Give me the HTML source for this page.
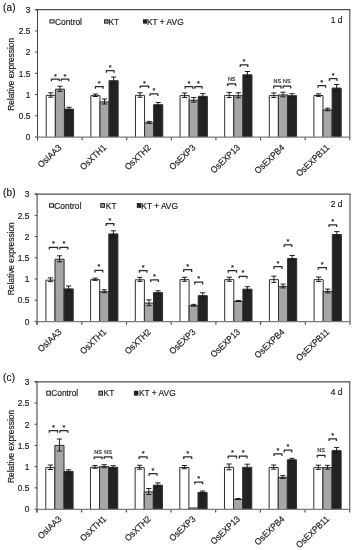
<!DOCTYPE html>
<html><head><meta charset="utf-8"><title>Relative expression</title>
<style>
html,body{margin:0;padding:0;background:#fff;}
svg{display:block;}
text{font-family:"Liberation Sans",sans-serif;fill:#1a1a1a;stroke:#1a1a1a;stroke-width:0.18px;}
.t{font-size:9px;}
.c{font-size:9px;}
.l{font-size:9px;}
.g{font-size:10px;letter-spacing:0.15px;}
.y{font-size:9px;}
.s{font-size:8px;}
.n{font-size:5.9px;fill:#1e2436;stroke:#1e2436;stroke-width:0.2px;}
</style></head><body>
<svg width="352" height="550" viewBox="0 0 352 550">
<rect width="352" height="550" fill="#fff"/>
<path d="M349.75 9.71V137" fill="none" stroke="#6a6a6a" stroke-width="1.3"/>
<path d="M35.1 9.71H350.4" fill="none" stroke="#505050" stroke-width="1.25"/>
<path d="M37.5 140.3V9.71" fill="none" stroke="#444" stroke-width="1.05"/>
<line x1="35.1" y1="137" x2="37.5" y2="137" stroke="#444" stroke-width="1"/>
<text transform="translate(30.4,140.3) scale(0.93,1)" text-anchor="end" class="t">0</text>
<line x1="35.1" y1="115.78" x2="37.5" y2="115.78" stroke="#444" stroke-width="1"/>
<text transform="translate(30.4,119.08) scale(0.93,1)" text-anchor="end" class="t">0.5</text>
<line x1="35.1" y1="94.57" x2="37.5" y2="94.57" stroke="#444" stroke-width="1"/>
<text transform="translate(30.4,97.87) scale(0.93,1)" text-anchor="end" class="t">1</text>
<line x1="35.1" y1="73.36" x2="37.5" y2="73.36" stroke="#444" stroke-width="1"/>
<text transform="translate(30.4,76.66) scale(0.93,1)" text-anchor="end" class="t">1.5</text>
<line x1="35.1" y1="52.14" x2="37.5" y2="52.14" stroke="#444" stroke-width="1"/>
<text transform="translate(30.4,55.44) scale(0.93,1)" text-anchor="end" class="t">2</text>
<line x1="35.1" y1="30.92" x2="37.5" y2="30.92" stroke="#444" stroke-width="1"/>
<text transform="translate(30.4,34.22) scale(0.93,1)" text-anchor="end" class="t">2.5</text>
<line x1="35.1" y1="9.71" x2="37.5" y2="9.71" stroke="#444" stroke-width="1"/>
<text transform="translate(30.4,13.01) scale(0.93,1)" text-anchor="end" class="t">3</text>
<line x1="37.5" y1="137" x2="37.5" y2="140.3" stroke="#444" stroke-width="1.1"/>
<line x1="82.11" y1="137" x2="82.11" y2="140.3" stroke="#444" stroke-width="1.1"/>
<line x1="126.71" y1="137" x2="126.71" y2="140.3" stroke="#444" stroke-width="1.1"/>
<line x1="171.32" y1="137" x2="171.32" y2="140.3" stroke="#444" stroke-width="1.1"/>
<line x1="215.93" y1="137" x2="215.93" y2="140.3" stroke="#444" stroke-width="1.1"/>
<line x1="260.54" y1="137" x2="260.54" y2="140.3" stroke="#444" stroke-width="1.1"/>
<line x1="305.14" y1="137" x2="305.14" y2="140.3" stroke="#444" stroke-width="1.1"/>
<line x1="349.75" y1="137" x2="349.75" y2="140.3" stroke="#444" stroke-width="1.1"/>
<path d="M46.25 137V95.4H55.35V137" fill="#ffffff" stroke="#2e2e2e" stroke-width="1"/>
<path d="M50.8 92.8V97.2M48.2 92.8H53.4M48.2 97.2H53.4" stroke="#161616" stroke-width="0.95" fill="none"/>
<path d="M55.35 137V89.15H64.45V137" fill="#a6a6a6" stroke="#2e2e2e" stroke-width="1"/>
<path d="M59.9 86.25V91.25M57.3 86.25H62.5M57.3 91.25H62.5" stroke="#161616" stroke-width="0.95" fill="none"/>
<path d="M64.45 137V109.15H73.55V137" fill="#222222" stroke="#2e2e2e" stroke-width="1"/>
<path d="M69 107.25V110.25M66.4 107.25H71.6M66.4 110.25H71.6" stroke="#161616" stroke-width="0.95" fill="none"/>
<text transform="translate(62.2,148.4) rotate(-43.5) scale(0.93,1)" text-anchor="end" class="c">OsIAA3</text>
<path d="M90.86 137V95.65H99.96V137" fill="#ffffff" stroke="#2e2e2e" stroke-width="1"/>
<path d="M95.41 94V96.5M92.81 94H98.01M92.81 96.5H98.01" stroke="#161616" stroke-width="0.95" fill="none"/>
<path d="M99.96 137V101.9H109.06V137" fill="#a6a6a6" stroke="#2e2e2e" stroke-width="1"/>
<path d="M104.51 99V104M101.91 99H107.11M101.91 104H107.11" stroke="#161616" stroke-width="0.95" fill="none"/>
<path d="M109.06 137V80.7H118.16V137" fill="#222222" stroke="#2e2e2e" stroke-width="1"/>
<path d="M113.61 77V83.6M111.01 77H116.21M111.01 83.6H116.21" stroke="#161616" stroke-width="0.95" fill="none"/>
<text transform="translate(106.81,148.4) rotate(-43.5) scale(0.93,1)" text-anchor="end" class="c">OsXTH1</text>
<path d="M135.47 137V95.4H144.57V137" fill="#ffffff" stroke="#2e2e2e" stroke-width="1"/>
<path d="M140.02 92.75V97.25M137.42 92.75H142.62M137.42 97.25H142.62" stroke="#161616" stroke-width="0.95" fill="none"/>
<path d="M144.57 137V122.8H153.67V137" fill="#a6a6a6" stroke="#2e2e2e" stroke-width="1"/>
<path d="M149.12 121.4V123.4M146.52 121.4H151.72M146.52 123.4H151.72" stroke="#161616" stroke-width="0.95" fill="none"/>
<path d="M153.67 137V104.7H162.77V137" fill="#222222" stroke="#2e2e2e" stroke-width="1"/>
<path d="M158.22 102.55V106.05M155.62 102.55H160.82M155.62 106.05H160.82" stroke="#161616" stroke-width="0.95" fill="none"/>
<text transform="translate(151.42,148.4) rotate(-43.5) scale(0.93,1)" text-anchor="end" class="c">OsXTH2</text>
<path d="M180.07 137V95.6H189.17V137" fill="#ffffff" stroke="#2e2e2e" stroke-width="1"/>
<path d="M184.62 92.95V97.45M182.03 92.95H187.22M182.03 97.45H187.22" stroke="#161616" stroke-width="0.95" fill="none"/>
<path d="M189.17 137V100.2H198.27V137" fill="#a6a6a6" stroke="#2e2e2e" stroke-width="1"/>
<path d="M193.72 97.5V102.1M191.12 97.5H196.32M191.12 102.1H196.32" stroke="#161616" stroke-width="0.95" fill="none"/>
<path d="M198.27 137V96.3H207.37V137" fill="#222222" stroke="#2e2e2e" stroke-width="1"/>
<path d="M202.82 93.6V98.2M200.22 93.6H205.42M200.22 98.2H205.42" stroke="#161616" stroke-width="0.95" fill="none"/>
<text transform="translate(196.02,148.4) rotate(-43.5) scale(0.93,1)" text-anchor="end" class="c">OsEXP3</text>
<path d="M224.68 137V95.4H233.78V137" fill="#ffffff" stroke="#2e2e2e" stroke-width="1"/>
<path d="M229.23 92.4V97.6M226.63 92.4H231.83M226.63 97.6H231.83" stroke="#161616" stroke-width="0.95" fill="none"/>
<path d="M233.78 137V95.65H242.88V137" fill="#a6a6a6" stroke="#2e2e2e" stroke-width="1"/>
<path d="M238.33 92.75V97.75M235.73 92.75H240.93M235.73 97.75H240.93" stroke="#161616" stroke-width="0.95" fill="none"/>
<path d="M242.88 137V74.8H251.98V137" fill="#222222" stroke="#2e2e2e" stroke-width="1"/>
<path d="M247.43 71.5V77.3M244.83 71.5H250.03M244.83 77.3H250.03" stroke="#161616" stroke-width="0.95" fill="none"/>
<text transform="translate(240.63,148.4) rotate(-43.5) scale(0.93,1)" text-anchor="end" class="c">OsEXP13</text>
<path d="M269.29 137V95.6H278.39V137" fill="#ffffff" stroke="#2e2e2e" stroke-width="1"/>
<path d="M273.84 92.95V97.45M271.24 92.95H276.44M271.24 97.45H276.44" stroke="#161616" stroke-width="0.95" fill="none"/>
<path d="M278.39 137V94.9H287.49V137" fill="#a6a6a6" stroke="#2e2e2e" stroke-width="1"/>
<path d="M282.94 92.2V96.8M280.34 92.2H285.54M280.34 96.8H285.54" stroke="#161616" stroke-width="0.95" fill="none"/>
<path d="M287.49 137V95.7H296.59V137" fill="#222222" stroke="#2e2e2e" stroke-width="1"/>
<path d="M292.04 93.7V96.9M289.44 93.7H294.64M289.44 96.9H294.64" stroke="#161616" stroke-width="0.95" fill="none"/>
<text transform="translate(285.24,148.4) rotate(-43.5) scale(0.93,1)" text-anchor="end" class="c">OsEXPB4</text>
<path d="M313.9 137V95.5H323V137" fill="#ffffff" stroke="#2e2e2e" stroke-width="1"/>
<path d="M318.45 93.85V96.35M315.85 93.85H321.05M315.85 96.35H321.05" stroke="#161616" stroke-width="0.95" fill="none"/>
<path d="M323 137V109.9H332.1V137" fill="#a6a6a6" stroke="#2e2e2e" stroke-width="1"/>
<path d="M327.55 108.25V110.75M324.95 108.25H330.15M324.95 110.75H330.15" stroke="#161616" stroke-width="0.95" fill="none"/>
<path d="M332.1 137V88.1H341.2V137" fill="#222222" stroke="#2e2e2e" stroke-width="1"/>
<path d="M336.65 84.5V90.9M334.05 84.5H339.25M334.05 90.9H339.25" stroke="#161616" stroke-width="0.95" fill="none"/>
<text transform="translate(329.85,148.4) rotate(-43.5) scale(0.93,1)" text-anchor="end" class="c">OsEXPB11</text>
<path d="M37 137.15H350.4" fill="none" stroke="#7c7c7c" stroke-width="1.25"/>
<path d="M51.4 81.3V79.1H59.3V81.3" stroke="#2a2a2a" stroke-width="1.25" fill="none" stroke-linejoin="round"/>
<text transform="translate(55.35,78.6) scale(0.93,1)" text-anchor="middle" class="s">*</text>
<path d="M61.3 81.3V79.1H68.8V81.3" stroke="#2a2a2a" stroke-width="1.25" fill="none" stroke-linejoin="round"/>
<text transform="translate(65.05,78.6) scale(0.93,1)" text-anchor="middle" class="s">*</text>
<path d="M95.4 88.7V86.5H103.1V88.7" stroke="#2a2a2a" stroke-width="1.25" fill="none" stroke-linejoin="round"/>
<text transform="translate(99.25,86) scale(0.93,1)" text-anchor="middle" class="s">*</text>
<path d="M106.4 72.7V70.5H114.1V72.7" stroke="#2a2a2a" stroke-width="1.25" fill="none" stroke-linejoin="round"/>
<text transform="translate(110.25,70) scale(0.93,1)" text-anchor="middle" class="s">*</text>
<path d="M140.2 88.3V86.1H148.7V88.3" stroke="#2a2a2a" stroke-width="1.25" fill="none" stroke-linejoin="round"/>
<text transform="translate(144.45,85.6) scale(0.93,1)" text-anchor="middle" class="s">*</text>
<path d="M150 96V93.8H157.9V96" stroke="#2a2a2a" stroke-width="1.25" fill="none" stroke-linejoin="round"/>
<text transform="translate(153.95,93.3) scale(0.93,1)" text-anchor="middle" class="s">*</text>
<path d="M185.1 88.7V86.5H192.8V88.7" stroke="#2a2a2a" stroke-width="1.25" fill="none" stroke-linejoin="round"/>
<text transform="translate(188.95,86) scale(0.93,1)" text-anchor="middle" class="s">*</text>
<path d="M194.8 88.7V86.5H202.1V88.7" stroke="#2a2a2a" stroke-width="1.25" fill="none" stroke-linejoin="round"/>
<text transform="translate(198.45,86) scale(0.93,1)" text-anchor="middle" class="s">*</text>
<path d="M227.7 86.1V83.9H235.7V86.1" stroke="#2a2a2a" stroke-width="1.25" fill="none" stroke-linejoin="round"/>
<text transform="translate(231.7,80.9) scale(0.93,1)" text-anchor="middle" class="n">NS</text>
<path d="M240.2 67V64.8H247.8V67" stroke="#2a2a2a" stroke-width="1.25" fill="none" stroke-linejoin="round"/>
<text transform="translate(244,64.3) scale(0.93,1)" text-anchor="middle" class="s">*</text>
<path d="M273.7 88.4V86.2H281V88.4" stroke="#2a2a2a" stroke-width="1.25" fill="none" stroke-linejoin="round"/>
<text transform="translate(277.35,83.2) scale(0.93,1)" text-anchor="middle" class="n">NS</text>
<path d="M283.1 88.4V86.2H290.7V88.4" stroke="#2a2a2a" stroke-width="1.25" fill="none" stroke-linejoin="round"/>
<text transform="translate(286.9,83.2) scale(0.93,1)" text-anchor="middle" class="n">NS</text>
<path d="M318 87.7V85.5H325.6V87.7" stroke="#2a2a2a" stroke-width="1.25" fill="none" stroke-linejoin="round"/>
<text transform="translate(321.8,85) scale(0.93,1)" text-anchor="middle" class="s">*</text>
<path d="M329.4 80.9V78.7H337V80.9" stroke="#2a2a2a" stroke-width="1.25" fill="none" stroke-linejoin="round"/>
<text transform="translate(333.2,78.2) scale(0.93,1)" text-anchor="middle" class="s">*</text>
<rect x="49.9" y="19.9" width="4.1" height="3" fill="#fff" stroke="#1c1c1c" stroke-width="1"/>
<text transform="translate(55,24.8) scale(0.93,1)" class="l">Control</text>
<rect x="104.6" y="19.8" width="3.5" height="3.3" fill="#a6a6a6" stroke="#1c1c1c" stroke-width="1"/>
<text transform="translate(108.4,24.8) scale(0.93,1)" class="l">KT</text>
<rect x="143.5" y="19.8" width="3.2" height="3.3" fill="#222" stroke="#1c1c1c" stroke-width="1"/>
<text transform="translate(147,24.8) scale(0.93,1)" class="l">KT + AVG</text>
<text transform="translate(342.3,22.71) scale(0.93,1)" text-anchor="end" class="l">1 d</text>
<text transform="translate(3,10.51) scale(1.0,1)" class="g">(a)</text>
<text transform="translate(14.4,74.36) rotate(-90) scale(0.93,1)" text-anchor="middle" class="y">Relative expression</text>
<path d="M350 194.11V321.4" fill="none" stroke="#6a6a6a" stroke-width="1.3"/>
<path d="M34.7 194.11H350.65" fill="none" stroke="#505050" stroke-width="1.25"/>
<path d="M37.1 324.7V194.11" fill="none" stroke="#444" stroke-width="1.05"/>
<line x1="34.7" y1="321.4" x2="37.1" y2="321.4" stroke="#444" stroke-width="1"/>
<text transform="translate(29.5,324.7) scale(0.93,1)" text-anchor="end" class="t">0</text>
<line x1="34.7" y1="300.19" x2="37.1" y2="300.19" stroke="#444" stroke-width="1"/>
<text transform="translate(29.5,303.49) scale(0.93,1)" text-anchor="end" class="t">0.5</text>
<line x1="34.7" y1="278.97" x2="37.1" y2="278.97" stroke="#444" stroke-width="1"/>
<text transform="translate(29.5,282.27) scale(0.93,1)" text-anchor="end" class="t">1</text>
<line x1="34.7" y1="257.75" x2="37.1" y2="257.75" stroke="#444" stroke-width="1"/>
<text transform="translate(29.5,261.06) scale(0.93,1)" text-anchor="end" class="t">1.5</text>
<line x1="34.7" y1="236.54" x2="37.1" y2="236.54" stroke="#444" stroke-width="1"/>
<text transform="translate(29.5,239.84) scale(0.93,1)" text-anchor="end" class="t">2</text>
<line x1="34.7" y1="215.32" x2="37.1" y2="215.32" stroke="#444" stroke-width="1"/>
<text transform="translate(29.5,218.62) scale(0.93,1)" text-anchor="end" class="t">2.5</text>
<line x1="34.7" y1="194.11" x2="37.1" y2="194.11" stroke="#444" stroke-width="1"/>
<text transform="translate(29.5,197.41) scale(0.93,1)" text-anchor="end" class="t">3</text>
<line x1="37.1" y1="321.4" x2="37.1" y2="324.7" stroke="#444" stroke-width="1.1"/>
<line x1="81.8" y1="321.4" x2="81.8" y2="324.7" stroke="#444" stroke-width="1.1"/>
<line x1="126.5" y1="321.4" x2="126.5" y2="324.7" stroke="#444" stroke-width="1.1"/>
<line x1="171.2" y1="321.4" x2="171.2" y2="324.7" stroke="#444" stroke-width="1.1"/>
<line x1="215.9" y1="321.4" x2="215.9" y2="324.7" stroke="#444" stroke-width="1.1"/>
<line x1="260.6" y1="321.4" x2="260.6" y2="324.7" stroke="#444" stroke-width="1.1"/>
<line x1="305.3" y1="321.4" x2="305.3" y2="324.7" stroke="#444" stroke-width="1.1"/>
<line x1="350" y1="321.4" x2="350" y2="324.7" stroke="#444" stroke-width="1.1"/>
<path d="M45.9 321.4V280.15H55V321.4" fill="#ffffff" stroke="#2e2e2e" stroke-width="1"/>
<path d="M50.45 277.85V281.65M47.85 277.85H53.05M47.85 281.65H53.05" stroke="#161616" stroke-width="0.95" fill="none"/>
<path d="M55 321.4V259.2H64.1V321.4" fill="#a6a6a6" stroke="#2e2e2e" stroke-width="1"/>
<path d="M59.55 255.8V261.8M56.95 255.8H62.15M56.95 261.8H62.15" stroke="#161616" stroke-width="0.95" fill="none"/>
<path d="M64.1 321.4V288.9H73.2V321.4" fill="#222222" stroke="#2e2e2e" stroke-width="1"/>
<path d="M68.65 286V291M66.05 286H71.25M66.05 291H71.25" stroke="#161616" stroke-width="0.95" fill="none"/>
<text transform="translate(62.2,332.7) rotate(-43.5) scale(0.93,1)" text-anchor="end" class="c">OsIAA3</text>
<path d="M90.6 321.4V279.65H99.7V321.4" fill="#ffffff" stroke="#2e2e2e" stroke-width="1"/>
<path d="M95.15 278.15V280.35M92.55 278.15H97.75M92.55 280.35H97.75" stroke="#161616" stroke-width="0.95" fill="none"/>
<path d="M99.7 321.4V291.7H108.8V321.4" fill="#a6a6a6" stroke="#2e2e2e" stroke-width="1"/>
<path d="M104.25 289.8V292.8M101.65 289.8H106.85M101.65 292.8H106.85" stroke="#161616" stroke-width="0.95" fill="none"/>
<path d="M108.8 321.4V233.9H117.9V321.4" fill="#222222" stroke="#2e2e2e" stroke-width="1"/>
<path d="M113.35 230.75V236.25M110.75 230.75H115.95M110.75 236.25H115.95" stroke="#161616" stroke-width="0.95" fill="none"/>
<text transform="translate(106.81,332.7) rotate(-43.5) scale(0.93,1)" text-anchor="end" class="c">OsXTH1</text>
<path d="M135.3 321.4V279.8H144.4V321.4" fill="#ffffff" stroke="#2e2e2e" stroke-width="1"/>
<path d="M139.85 277.4V281.4M137.25 277.4H142.45M137.25 281.4H142.45" stroke="#161616" stroke-width="0.95" fill="none"/>
<path d="M144.4 321.4V303.15H153.5V321.4" fill="#a6a6a6" stroke="#2e2e2e" stroke-width="1"/>
<path d="M148.95 299.85V305.65M146.35 299.85H151.55M146.35 305.65H151.55" stroke="#161616" stroke-width="0.95" fill="none"/>
<path d="M153.5 321.4V292.65H162.6V321.4" fill="#222222" stroke="#2e2e2e" stroke-width="1"/>
<path d="M158.05 290.75V293.75M155.45 290.75H160.65M155.45 293.75H160.65" stroke="#161616" stroke-width="0.95" fill="none"/>
<text transform="translate(151.42,332.7) rotate(-43.5) scale(0.93,1)" text-anchor="end" class="c">OsXTH2</text>
<path d="M180 321.4V279.65H189.1V321.4" fill="#ffffff" stroke="#2e2e2e" stroke-width="1"/>
<path d="M184.55 277.25V281.25M181.95 277.25H187.15M181.95 281.25H187.15" stroke="#161616" stroke-width="0.95" fill="none"/>
<path d="M189.1 321.4V305.65H198.2V321.4" fill="#a6a6a6" stroke="#2e2e2e" stroke-width="1"/>
<path d="M193.65 304.35V306.15M191.05 304.35H196.25M191.05 306.15H196.25" stroke="#161616" stroke-width="0.95" fill="none"/>
<path d="M198.2 321.4V295.65H207.3V321.4" fill="#222222" stroke="#2e2e2e" stroke-width="1"/>
<path d="M202.75 292.75V297.75M200.15 292.75H205.35M200.15 297.75H205.35" stroke="#161616" stroke-width="0.95" fill="none"/>
<text transform="translate(196.02,332.7) rotate(-43.5) scale(0.93,1)" text-anchor="end" class="c">OsEXP3</text>
<path d="M224.7 321.4V279.65H233.8V321.4" fill="#ffffff" stroke="#2e2e2e" stroke-width="1"/>
<path d="M229.25 277.25V281.25M226.65 277.25H231.85M226.65 281.25H231.85" stroke="#161616" stroke-width="0.95" fill="none"/>
<path d="M233.8 321.4V301.4H242.9V321.4" fill="#a6a6a6" stroke="#2e2e2e" stroke-width="1"/>
<path d="M238.35 300.5V301.5M235.75 300.5H240.95M235.75 301.5H240.95" stroke="#161616" stroke-width="0.95" fill="none"/>
<path d="M242.9 321.4V289.2H252V321.4" fill="#222222" stroke="#2e2e2e" stroke-width="1"/>
<path d="M247.45 286.7V290.9M244.85 286.7H250.05M244.85 290.9H250.05" stroke="#161616" stroke-width="0.95" fill="none"/>
<text transform="translate(240.63,332.7) rotate(-43.5) scale(0.93,1)" text-anchor="end" class="c">OsEXP13</text>
<path d="M269.4 321.4V279.65H278.5V321.4" fill="#ffffff" stroke="#2e2e2e" stroke-width="1"/>
<path d="M273.95 276.15V282.35M271.35 276.15H276.55M271.35 282.35H276.55" stroke="#161616" stroke-width="0.95" fill="none"/>
<path d="M278.5 321.4V286.4H287.6V321.4" fill="#a6a6a6" stroke="#2e2e2e" stroke-width="1"/>
<path d="M283.05 284.1V287.9M280.45 284.1H285.65M280.45 287.9H285.65" stroke="#161616" stroke-width="0.95" fill="none"/>
<path d="M287.6 321.4V258.5H296.7V321.4" fill="#222222" stroke="#2e2e2e" stroke-width="1"/>
<path d="M292.15 255.5V260.7M289.55 255.5H294.75M289.55 260.7H294.75" stroke="#161616" stroke-width="0.95" fill="none"/>
<text transform="translate(285.24,332.7) rotate(-43.5) scale(0.93,1)" text-anchor="end" class="c">OsEXPB4</text>
<path d="M314.1 321.4V279.65H323.2V321.4" fill="#ffffff" stroke="#2e2e2e" stroke-width="1"/>
<path d="M318.65 277.05V281.45M316.05 277.05H321.25M316.05 281.45H321.25" stroke="#161616" stroke-width="0.95" fill="none"/>
<path d="M323.2 321.4V291.4H332.3V321.4" fill="#a6a6a6" stroke="#2e2e2e" stroke-width="1"/>
<path d="M327.75 289.1V292.9M325.15 289.1H330.35M325.15 292.9H330.35" stroke="#161616" stroke-width="0.95" fill="none"/>
<path d="M332.3 321.4V234.5H341.4V321.4" fill="#222222" stroke="#2e2e2e" stroke-width="1"/>
<path d="M336.85 231.6V236.6M334.25 231.6H339.45M334.25 236.6H339.45" stroke="#161616" stroke-width="0.95" fill="none"/>
<text transform="translate(329.85,332.7) rotate(-43.5) scale(0.93,1)" text-anchor="end" class="c">OsEXPB11</text>
<path d="M36.6 321.55H350.65" fill="none" stroke="#7c7c7c" stroke-width="1.25"/>
<path d="M49.3 249.5V247.3H57.6V249.5" stroke="#2a2a2a" stroke-width="1.25" fill="none" stroke-linejoin="round"/>
<text transform="translate(53.45,246.35) scale(0.93,1)" text-anchor="middle" class="s">*</text>
<path d="M59.9 249.5V247.3H67.8V249.5" stroke="#2a2a2a" stroke-width="1.25" fill="none" stroke-linejoin="round"/>
<text transform="translate(63.85,246.35) scale(0.93,1)" text-anchor="middle" class="s">*</text>
<path d="M95 272.45V270.25H102.75V272.45" stroke="#2a2a2a" stroke-width="1.25" fill="none" stroke-linejoin="round"/>
<text transform="translate(98.88,269.3) scale(0.93,1)" text-anchor="middle" class="s">*</text>
<path d="M106.2 225.9V223.7H113.9V225.9" stroke="#2a2a2a" stroke-width="1.25" fill="none" stroke-linejoin="round"/>
<text transform="translate(110.05,222.75) scale(0.93,1)" text-anchor="middle" class="s">*</text>
<path d="M139.3 272.7V270.5H147V272.7" stroke="#2a2a2a" stroke-width="1.25" fill="none" stroke-linejoin="round"/>
<text transform="translate(143.15,269.55) scale(0.93,1)" text-anchor="middle" class="s">*</text>
<path d="M150.7 282.1V279.9H158.4V282.1" stroke="#2a2a2a" stroke-width="1.25" fill="none" stroke-linejoin="round"/>
<text transform="translate(154.55,278.95) scale(0.93,1)" text-anchor="middle" class="s">*</text>
<path d="M183.7 271.9V269.7H191.7V271.9" stroke="#2a2a2a" stroke-width="1.25" fill="none" stroke-linejoin="round"/>
<text transform="translate(187.7,268.75) scale(0.93,1)" text-anchor="middle" class="s">*</text>
<path d="M194.75 284.4V282.2H202.7V284.4" stroke="#2a2a2a" stroke-width="1.25" fill="none" stroke-linejoin="round"/>
<text transform="translate(198.72,281.25) scale(0.93,1)" text-anchor="middle" class="s">*</text>
<path d="M228.2 272.7V270.5H236.5V272.7" stroke="#2a2a2a" stroke-width="1.25" fill="none" stroke-linejoin="round"/>
<text transform="translate(232.35,269.55) scale(0.93,1)" text-anchor="middle" class="s">*</text>
<path d="M239.1 278.6V276.4H247V278.6" stroke="#2a2a2a" stroke-width="1.25" fill="none" stroke-linejoin="round"/>
<text transform="translate(243.05,275.45) scale(0.93,1)" text-anchor="middle" class="s">*</text>
<path d="M274 268.9V266.7H282V268.9" stroke="#2a2a2a" stroke-width="1.25" fill="none" stroke-linejoin="round"/>
<text transform="translate(278,265.75) scale(0.93,1)" text-anchor="middle" class="s">*</text>
<path d="M284.2 247V244.8H291.8V247" stroke="#2a2a2a" stroke-width="1.25" fill="none" stroke-linejoin="round"/>
<text transform="translate(288,243.85) scale(0.93,1)" text-anchor="middle" class="s">*</text>
<path d="M318.2 269.8V267.6H326.4V269.8" stroke="#2a2a2a" stroke-width="1.25" fill="none" stroke-linejoin="round"/>
<text transform="translate(322.3,266.65) scale(0.93,1)" text-anchor="middle" class="s">*</text>
<path d="M329 227V224.8H336.6V227" stroke="#2a2a2a" stroke-width="1.25" fill="none" stroke-linejoin="round"/>
<text transform="translate(332.8,223.85) scale(0.93,1)" text-anchor="middle" class="s">*</text>
<rect x="49.6" y="203.8" width="4" height="3.4" fill="#fff" stroke="#1c1c1c" stroke-width="1"/>
<text transform="translate(54.3,209) scale(0.93,1)" class="l">Control</text>
<rect x="100.8" y="203.6" width="3.6" height="3.7" fill="#a6a6a6" stroke="#1c1c1c" stroke-width="1"/>
<text transform="translate(105.8,209) scale(0.93,1)" class="l">KT</text>
<rect x="137.3" y="203.6" width="3.6" height="3.7" fill="#222" stroke="#1c1c1c" stroke-width="1"/>
<text transform="translate(141.3,209) scale(0.93,1)" class="l">KT + AVG</text>
<text transform="translate(342.3,207.11) scale(0.93,1)" text-anchor="end" class="l">2 d</text>
<text transform="translate(3,195.91) scale(1.0,1)" class="g">(b)</text>
<text transform="translate(13.5,258.75) rotate(-90) scale(0.93,1)" text-anchor="middle" class="y">Relative expression</text>
<path d="M349.7 381.81V509.1" fill="none" stroke="#6a6a6a" stroke-width="1.3"/>
<path d="M34.6 381.81H350.35" fill="none" stroke="#505050" stroke-width="1.25"/>
<path d="M37 512.4V381.81" fill="none" stroke="#444" stroke-width="1.05"/>
<line x1="34.6" y1="509.1" x2="37" y2="509.1" stroke="#444" stroke-width="1"/>
<text transform="translate(29.5,512.4) scale(0.93,1)" text-anchor="end" class="t">0</text>
<line x1="34.6" y1="487.89" x2="37" y2="487.89" stroke="#444" stroke-width="1"/>
<text transform="translate(29.5,491.19) scale(0.93,1)" text-anchor="end" class="t">0.5</text>
<line x1="34.6" y1="466.67" x2="37" y2="466.67" stroke="#444" stroke-width="1"/>
<text transform="translate(29.5,469.97) scale(0.93,1)" text-anchor="end" class="t">1</text>
<line x1="34.6" y1="445.46" x2="37" y2="445.46" stroke="#444" stroke-width="1"/>
<text transform="translate(29.5,448.76) scale(0.93,1)" text-anchor="end" class="t">1.5</text>
<line x1="34.6" y1="424.24" x2="37" y2="424.24" stroke="#444" stroke-width="1"/>
<text transform="translate(29.5,427.54) scale(0.93,1)" text-anchor="end" class="t">2</text>
<line x1="34.6" y1="403.03" x2="37" y2="403.03" stroke="#444" stroke-width="1"/>
<text transform="translate(29.5,406.33) scale(0.93,1)" text-anchor="end" class="t">2.5</text>
<line x1="34.6" y1="381.81" x2="37" y2="381.81" stroke="#444" stroke-width="1"/>
<text transform="translate(29.5,385.11) scale(0.93,1)" text-anchor="end" class="t">3</text>
<line x1="37" y1="509.1" x2="37" y2="512.4" stroke="#444" stroke-width="1.1"/>
<line x1="81.67" y1="509.1" x2="81.67" y2="512.4" stroke="#444" stroke-width="1.1"/>
<line x1="126.34" y1="509.1" x2="126.34" y2="512.4" stroke="#444" stroke-width="1.1"/>
<line x1="171.01" y1="509.1" x2="171.01" y2="512.4" stroke="#444" stroke-width="1.1"/>
<line x1="215.69" y1="509.1" x2="215.69" y2="512.4" stroke="#444" stroke-width="1.1"/>
<line x1="260.36" y1="509.1" x2="260.36" y2="512.4" stroke="#444" stroke-width="1.1"/>
<line x1="305.03" y1="509.1" x2="305.03" y2="512.4" stroke="#444" stroke-width="1.1"/>
<line x1="349.7" y1="509.1" x2="349.7" y2="512.4" stroke="#444" stroke-width="1.1"/>
<path d="M45.79 509.1V467.65H54.89V509.1" fill="#ffffff" stroke="#2e2e2e" stroke-width="1"/>
<path d="M50.34 465V469.5M47.74 465H52.94M47.74 469.5H52.94" stroke="#161616" stroke-width="0.95" fill="none"/>
<path d="M54.89 509.1V445.4H63.99V509.1" fill="#a6a6a6" stroke="#2e2e2e" stroke-width="1"/>
<path d="M59.44 439V451M56.84 439H62.04M56.84 451H62.04" stroke="#161616" stroke-width="0.95" fill="none"/>
<path d="M63.99 509.1V471.4H73.09V509.1" fill="#222222" stroke="#2e2e2e" stroke-width="1"/>
<path d="M68.54 469.75V472.25M65.94 469.75H71.14M65.94 472.25H71.14" stroke="#161616" stroke-width="0.95" fill="none"/>
<text transform="translate(62.2,519.7) rotate(-43.5) scale(0.93,1)" text-anchor="end" class="c">OsIAA3</text>
<path d="M90.46 509.1V467.3H99.56V509.1" fill="#ffffff" stroke="#2e2e2e" stroke-width="1"/>
<path d="M95.01 465.5V468.3M92.41 465.5H97.61M92.41 468.3H97.61" stroke="#161616" stroke-width="0.95" fill="none"/>
<path d="M99.56 509.1V466.6H108.66V509.1" fill="#a6a6a6" stroke="#2e2e2e" stroke-width="1"/>
<path d="M104.11 464.7V467.7M101.51 464.7H106.71M101.51 467.7H106.71" stroke="#161616" stroke-width="0.95" fill="none"/>
<path d="M108.66 509.1V467.3H117.76V509.1" fill="#222222" stroke="#2e2e2e" stroke-width="1"/>
<path d="M113.21 465.65V468.15M110.61 465.65H115.81M110.61 468.15H115.81" stroke="#161616" stroke-width="0.95" fill="none"/>
<text transform="translate(106.81,519.7) rotate(-43.5) scale(0.93,1)" text-anchor="end" class="c">OsXTH1</text>
<path d="M135.13 509.1V467.65H144.23V509.1" fill="#ffffff" stroke="#2e2e2e" stroke-width="1"/>
<path d="M139.68 465.25V469.25M137.08 465.25H142.28M137.08 469.25H142.28" stroke="#161616" stroke-width="0.95" fill="none"/>
<path d="M144.23 509.1V491.9H153.33V509.1" fill="#a6a6a6" stroke="#2e2e2e" stroke-width="1"/>
<path d="M148.78 488.5V494.5M146.18 488.5H151.38M146.18 494.5H151.38" stroke="#161616" stroke-width="0.95" fill="none"/>
<path d="M153.33 509.1V485.15H162.43V509.1" fill="#222222" stroke="#2e2e2e" stroke-width="1"/>
<path d="M157.88 482.85V486.65M155.28 482.85H160.48M155.28 486.65H160.48" stroke="#161616" stroke-width="0.95" fill="none"/>
<text transform="translate(151.42,519.7) rotate(-43.5) scale(0.93,1)" text-anchor="end" class="c">OsXTH2</text>
<path d="M179.8 509.1V467.5H188.9V509.1" fill="#ffffff" stroke="#2e2e2e" stroke-width="1"/>
<path d="M184.35 465.5V468.7M181.75 465.5H186.95M181.75 468.7H186.95" stroke="#161616" stroke-width="0.95" fill="none"/>
<path d="M188.9 509.1V508H198V509.1" fill="#a6a6a6" stroke="#2e2e2e" stroke-width="1"/>
<path d="M198 509.1V492.4H207.1V509.1" fill="#222222" stroke="#2e2e2e" stroke-width="1"/>
<path d="M202.55 491V493M199.95 491H205.15M199.95 493H205.15" stroke="#161616" stroke-width="0.95" fill="none"/>
<text transform="translate(196.02,519.7) rotate(-43.5) scale(0.93,1)" text-anchor="end" class="c">OsEXP3</text>
<path d="M224.47 509.1V467.3H233.57V509.1" fill="#ffffff" stroke="#2e2e2e" stroke-width="1"/>
<path d="M229.02 464V469.8M226.42 464H231.62M226.42 469.8H231.62" stroke="#161616" stroke-width="0.95" fill="none"/>
<path d="M233.57 509.1V499.4H242.67V509.1" fill="#a6a6a6" stroke="#2e2e2e" stroke-width="1"/>
<path d="M238.12 498.5V499.5M235.52 498.5H240.72M235.52 499.5H240.72" stroke="#161616" stroke-width="0.95" fill="none"/>
<path d="M242.67 509.1V467.3H251.77V509.1" fill="#222222" stroke="#2e2e2e" stroke-width="1"/>
<path d="M247.22 464.2V469.6M244.62 464.2H249.82M244.62 469.6H249.82" stroke="#161616" stroke-width="0.95" fill="none"/>
<text transform="translate(240.63,519.7) rotate(-43.5) scale(0.93,1)" text-anchor="end" class="c">OsEXP13</text>
<path d="M269.14 509.1V467.5H278.24V509.1" fill="#ffffff" stroke="#2e2e2e" stroke-width="1"/>
<path d="M273.69 465V469.2M271.09 465H276.29M271.09 469.2H276.29" stroke="#161616" stroke-width="0.95" fill="none"/>
<path d="M278.24 509.1V477.4H287.34V509.1" fill="#a6a6a6" stroke="#2e2e2e" stroke-width="1"/>
<path d="M282.79 475.6V478.4M280.19 475.6H285.39M280.19 478.4H285.39" stroke="#161616" stroke-width="0.95" fill="none"/>
<path d="M287.34 509.1V459.8H296.44V509.1" fill="#222222" stroke="#2e2e2e" stroke-width="1"/>
<path d="M291.89 458.3V460.5M289.29 458.3H294.49M289.29 460.5H294.49" stroke="#161616" stroke-width="0.95" fill="none"/>
<text transform="translate(285.24,519.7) rotate(-43.5) scale(0.93,1)" text-anchor="end" class="c">OsEXPB4</text>
<path d="M313.81 509.1V467.65H322.91V509.1" fill="#ffffff" stroke="#2e2e2e" stroke-width="1"/>
<path d="M318.36 465.15V469.35M315.76 465.15H320.96M315.76 469.35H320.96" stroke="#161616" stroke-width="0.95" fill="none"/>
<path d="M322.91 509.1V467.65H332.01V509.1" fill="#a6a6a6" stroke="#2e2e2e" stroke-width="1"/>
<path d="M327.46 465.35V469.15M324.86 465.35H330.06M324.86 469.15H330.06" stroke="#161616" stroke-width="0.95" fill="none"/>
<path d="M332.01 509.1V450.6H341.11V509.1" fill="#222222" stroke="#2e2e2e" stroke-width="1"/>
<path d="M336.56 447.4V453M333.96 447.4H339.16M333.96 453H339.16" stroke="#161616" stroke-width="0.95" fill="none"/>
<text transform="translate(329.85,519.7) rotate(-43.5) scale(0.93,1)" text-anchor="end" class="c">OsEXPB11</text>
<path d="M36.5 509.25H350.35" fill="none" stroke="#7c7c7c" stroke-width="1.25"/>
<path d="M49.3 432.7V430.5H57.6V432.7" stroke="#2a2a2a" stroke-width="1.25" fill="none" stroke-linejoin="round"/>
<text transform="translate(53.45,429.5) scale(0.93,1)" text-anchor="middle" class="s">*</text>
<path d="M59.9 432.7V430.5H67.8V432.7" stroke="#2a2a2a" stroke-width="1.25" fill="none" stroke-linejoin="round"/>
<text transform="translate(63.85,429.5) scale(0.93,1)" text-anchor="middle" class="s">*</text>
<path d="M94.2 459.2V457H102V459.2" stroke="#2a2a2a" stroke-width="1.25" fill="none" stroke-linejoin="round"/>
<text transform="translate(98.1,454) scale(0.93,1)" text-anchor="middle" class="n">NS</text>
<path d="M104.2 459V456.8H111.8V459" stroke="#2a2a2a" stroke-width="1.25" fill="none" stroke-linejoin="round"/>
<text transform="translate(108,453.8) scale(0.93,1)" text-anchor="middle" class="n">NS</text>
<path d="M139.1 459V456.8H147.05V459" stroke="#2a2a2a" stroke-width="1.25" fill="none" stroke-linejoin="round"/>
<text transform="translate(143.07,455.8) scale(0.93,1)" text-anchor="middle" class="s">*</text>
<path d="M149.1 475.7V473.5H157V475.7" stroke="#2a2a2a" stroke-width="1.25" fill="none" stroke-linejoin="round"/>
<text transform="translate(153.05,472.5) scale(0.93,1)" text-anchor="middle" class="s">*</text>
<path d="M183.7 459V456.8H191.7V459" stroke="#2a2a2a" stroke-width="1.25" fill="none" stroke-linejoin="round"/>
<text transform="translate(187.7,455.8) scale(0.93,1)" text-anchor="middle" class="s">*</text>
<path d="M194.75 484.3V482.1H202.7V484.3" stroke="#2a2a2a" stroke-width="1.25" fill="none" stroke-linejoin="round"/>
<text transform="translate(198.72,481.1) scale(0.93,1)" text-anchor="middle" class="s">*</text>
<path d="M228.2 458.4V456.2H236.5V458.4" stroke="#2a2a2a" stroke-width="1.25" fill="none" stroke-linejoin="round"/>
<text transform="translate(232.35,455.2) scale(0.93,1)" text-anchor="middle" class="s">*</text>
<path d="M239.3 458.4V456.2H247V458.4" stroke="#2a2a2a" stroke-width="1.25" fill="none" stroke-linejoin="round"/>
<text transform="translate(243.15,455.2) scale(0.93,1)" text-anchor="middle" class="s">*</text>
<path d="M274 456V453.8H282V456" stroke="#2a2a2a" stroke-width="1.25" fill="none" stroke-linejoin="round"/>
<text transform="translate(278,452.8) scale(0.93,1)" text-anchor="middle" class="s">*</text>
<path d="M284.2 452.4V450.2H291.8V452.4" stroke="#2a2a2a" stroke-width="1.25" fill="none" stroke-linejoin="round"/>
<text transform="translate(288,449.2) scale(0.93,1)" text-anchor="middle" class="s">*</text>
<path d="M317.3 457.45V455.25H325V457.45" stroke="#2a2a2a" stroke-width="1.25" fill="none" stroke-linejoin="round"/>
<text transform="translate(321.15,452.25) scale(0.93,1)" text-anchor="middle" class="n">NS</text>
<path d="M329 441V438.8H336.4V441" stroke="#2a2a2a" stroke-width="1.25" fill="none" stroke-linejoin="round"/>
<text transform="translate(332.7,437.8) scale(0.93,1)" text-anchor="middle" class="s">*</text>
<rect x="46.8" y="391.2" width="3.5" height="3.9" fill="#fff" stroke="#1c1c1c" stroke-width="1"/>
<text transform="translate(51.2,396.1) scale(0.93,1)" class="l">Control</text>
<rect x="98.9" y="391.2" width="3.6" height="3.9" fill="#a6a6a6" stroke="#1c1c1c" stroke-width="1"/>
<text transform="translate(103.6,396.1) scale(0.93,1)" class="l">KT</text>
<rect x="134.4" y="391.2" width="3.5" height="3.9" fill="#222" stroke="#1c1c1c" stroke-width="1"/>
<text transform="translate(139,396.1) scale(0.93,1)" class="l">KT + AVG</text>
<text transform="translate(342.3,394.81) scale(0.93,1)" text-anchor="end" class="l">4 d</text>
<text transform="translate(3,381.21) scale(1.0,1)" class="g">(c)</text>
<text transform="translate(13.5,446.46) rotate(-90) scale(0.93,1)" text-anchor="middle" class="y">Relative expression</text>
</svg>
</body></html>
